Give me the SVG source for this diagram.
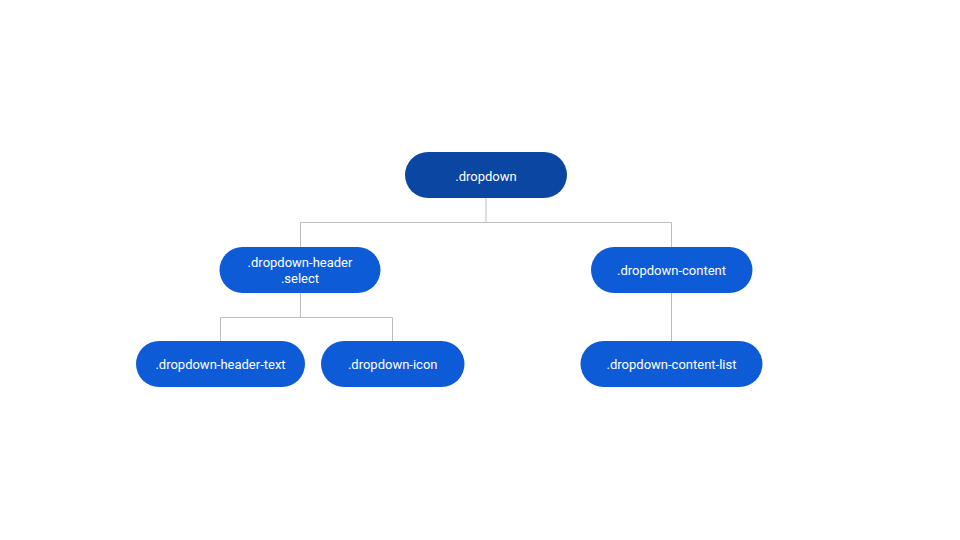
<svg xmlns="http://www.w3.org/2000/svg" width="960" height="540" viewBox="0 0 960 540">
<style>
.node rect{fill:#0D5BD7}
.root rect{fill:#0B46A3}
text{font-family:Roboto,"Liberation Sans",sans-serif;font-size:13px;fill:#FFFFFF;text-anchor:middle}
.conn path{fill:none;stroke:#BDBDBD;stroke-width:1}
</style>
<rect width="960" height="540" fill="#FFFFFF"/>
<g class="conn" id="connectors">
<path d="M486 198V222.5M300.5 222.5H671.5M300.5 222.5V247M671.5 222.5V247"/>
<path d="M300.5 293V317.5M220.5 317.5H392.5M220.5 317.5V341M392.5 317.5V341"/>
<path d="M671.5 293V341"/>
</g>
<g id="dropdown" class="node root"><rect x="405" y="152" width="162" height="46" rx="23"/><text x="486" y="180.5">.dropdown</text></g>
<g id="dropdown-header" class="node"><rect x="219.5" y="247" width="161" height="46" rx="23"/><text x="300" y="267">.dropdown-header</text><text x="300" y="283">.select</text></g>
<g id="dropdown-content" class="node"><rect x="591" y="247" width="161.5" height="46" rx="23"/><text x="671.5" y="275">.dropdown-content</text></g>
<g id="dropdown-header-text" class="node"><rect x="136" y="341" width="169" height="46" rx="23"/><text x="220.5" y="369">.dropdown-header-text</text></g>
<g id="dropdown-icon" class="node"><rect x="321" y="341" width="143.5" height="46" rx="23"/><text x="392.7" y="369">.dropdown-icon</text></g>
<g id="dropdown-content-list" class="node"><rect x="580.5" y="341" width="182" height="46" rx="23"/><text x="671.5" y="369">.dropdown-content-list</text></g>
</svg>
